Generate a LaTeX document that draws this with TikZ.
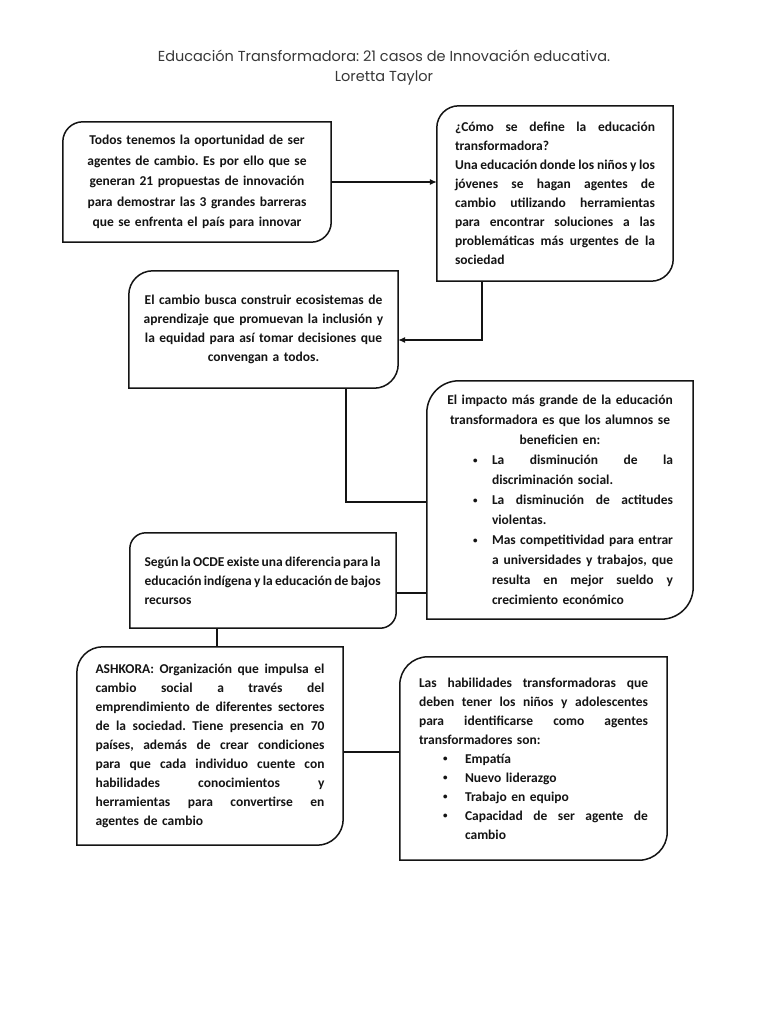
\documentclass[tikz,border=0pt]{standalone}
\usepackage{fontspec}
\setmainfont{Carlito}
\newfontfamily\titulofont{Poppins}
\usetikzlibrary{arrows.meta,calc,positioning}
\definecolor{tinta}{RGB}{20,20,20}
\definecolor{gristitulo}{RGB}{55,55,55}
\frenchspacing
\newcommand{\lj}[1]{\makebox[\linewidth][s]{\spaceskip=0pt\xspaceskip=0pt #1}}
\newcommand{\apretado}[1]{\mbox{\spaceskip=0.17em\xspaceskip=0.17em #1}}
\newcommand{\bala}{{\fontsize{9}{9}\selectfont\raisebox{1.6pt}{\textbullet}}}
\newcommand{\vinj}[3]{\hspace*{#1}\makebox[\dimexpr#2-#1\relax][l]{\bala}\makebox[\dimexpr\linewidth-#2\relax][s]{\spaceskip=0pt\xspaceskip=0pt #3}}
\newcommand{\vinr}[3]{\hspace*{#1}\makebox[\dimexpr#2-#1\relax][l]{\bala}#3}
\newcommand{\sangj}[2]{\hspace*{#1}\makebox[\dimexpr\linewidth-#1\relax][s]{\spaceskip=0pt\xspaceskip=0pt #2}}
\tikzset{
  tarjeta/.style={inner sep=0pt,align=left,text=tinta,
    font=\fontsize{13.5}{19}\selectfont\bfseries},
  borde/.style={line width=1.5pt,color=tinta},
  enlace/.style={line width=1.1pt,color=tinta},
  flecha/.style={enlace,-{Latex[length=7pt,width=6pt]}},
}
\begin{document}
\begin{tikzpicture}[x=1pt,y=-1pt]
\fill[white](0,0)rectangle(768,1024);
\useasboundingbox(0,0)rectangle(768,1024);
\node[font=\titulofont\fontsize{14.5}{20}\selectfont,text=gristitulo,align=center](titulo)at(384,68)
  {Educación Transformadora: 21 casos de Innovación educativa.\\Loretta Taylor};
\node[tarjeta,align=center,text width=236pt,minimum width=268pt,minimum height=120pt,
  font=\fontsize{13.5}{20.4}\selectfont\bfseries](todos)at(197,182)
  {Todos tenemos la oportunidad de ser\\agentes de cambio. Es por ello que se\\
   generan 21 propuestas de innovación\\para demostrar las 3 grandes barreras\\
   que se enfrenta el país para innovar};
\node[tarjeta,text width=200pt,minimum width=236pt,minimum height=175pt](como)at(555,193.5)
  {\lj{¿Cómo se define la educación}\\transformadora?\\
   \lj{Una educación donde los niños y los}\\\lj{jóvenes se hagan agentes de}\\
   \lj{cambio utilizando herramientas}\\\lj{para encontrar soluciones a las}\\
   \lj{problemáticas más urgentes de la}\\sociedad};
\node[tarjeta,align=center,text width=240pt,minimum width=269pt,minimum height=117pt](cambio)at(263.5,329.5)
  {El cambio busca construir ecosistemas de\\aprendizaje que promuevan la inclusión y\\
   la equidad para así tomar decisiones que\\convengan a todos.\\[8pt]};
\node[tarjeta,text width=226pt,minimum width=266pt,minimum height=238pt,
  font=\fontsize{13.5}{20}\selectfont\bfseries](impacto)at(560,500)
  {\makebox[\linewidth]{El impacto más grande de la educación}\\
   \makebox[\linewidth]{transformadora es que los alumnos se}\\
   \makebox[\linewidth]{beneficien en:}\\
   \vinj{26pt}{45pt}{La disminución de la}\\\hspace*{45pt}discriminación social.\\
   \vinj{26pt}{45pt}{La disminución de actitudes}\\\hspace*{45pt}violentas.\\
   \vinj{26pt}{45pt}{Mas competitividad para entrar}\\
   \sangj{45pt}{a universidades y trabajos, que}\\
   \sangj{45pt}{resulta en mejor sueldo y}\\\hspace*{45pt}crecimiento económico};
\node[tarjeta,text width=237pt,minimum width=266pt,minimum height=95pt](segun)at(263,580.5)
  {\apretado{Según la OCDE existe una diferencia para la}\\
   \apretado{educación indígena y la educación de bajos}\\recursos};
\node[tarjeta,text width=229pt,minimum width=266pt,minimum height=198pt](ashkora)at(210,746)
  {\lj{ASHKORA: Organización que impulsa el}\\\lj{cambio social a través del}\\
   \lj{emprendimiento de diferentes sectores}\\\lj{de la sociedad. Tiene presencia en 70}\\
   \lj{países, además de crear condiciones}\\\lj{para que cada individuo cuente con}\\
   \lj{habilidades conocimientos y}\\\lj{herramientas para convertirse en}\\
   agentes de cambio};
\node[tarjeta,text width=229pt,minimum width=267pt,minimum height=203pt](habil)at(533.5,758.5)
  {\lj{Las habilidades transformadoras que}\\\lj{deben tener los niños y adolescentes}\\
   \lj{para identificarse como agentes}\\transformadores son:\\
   \vinr{24pt}{46pt}{Empatía}\\\vinr{24pt}{46pt}{Nuevo liderazgo}\\
   \vinr{24pt}{46pt}{Trabajo en equipo}\\\vinj{24pt}{46pt}{Capacidad de ser agente de}\\
   \hspace*{46pt}cambio};
% bordes: esquinas redondeadas arriba-izquierda y abajo-derecha
\foreach \n/\r in {todos/20,como/22,cambio/24,impacto/32,segun/16,ashkora/26,habil/28}
  \draw[borde]($(\n.north west)+(0pt,-\r pt)$)arc[start angle=180,end angle=90,radius=\r pt]
    --(\n.north east)--($(\n.south east)+(0pt,\r pt)$)
    arc[start angle=0,end angle=-90,radius=\r pt]--(\n.south west)--cycle;
\draw[flecha](todos.east)--(todos.east-|como.west);
\draw[flecha]([xshift=-73pt]como.south)|-([yshift=-10.5pt]cambio.east);
\draw[enlace]([xshift=82.5pt]cambio.south)|-([yshift=-2pt]impacto.west);
\draw[enlace]([yshift=-12.5pt]segun.east)--([yshift=-12.5pt]segun.east-|impacto.west);
\draw[enlace]([xshift=-46pt]segun.south)--([xshift=-46pt]segun.south|-ashkora.north);
\draw[enlace]([yshift=-6pt]ashkora.east)--([yshift=-6pt]ashkora.east-|habil.west);
\end{tikzpicture}
\end{document}
